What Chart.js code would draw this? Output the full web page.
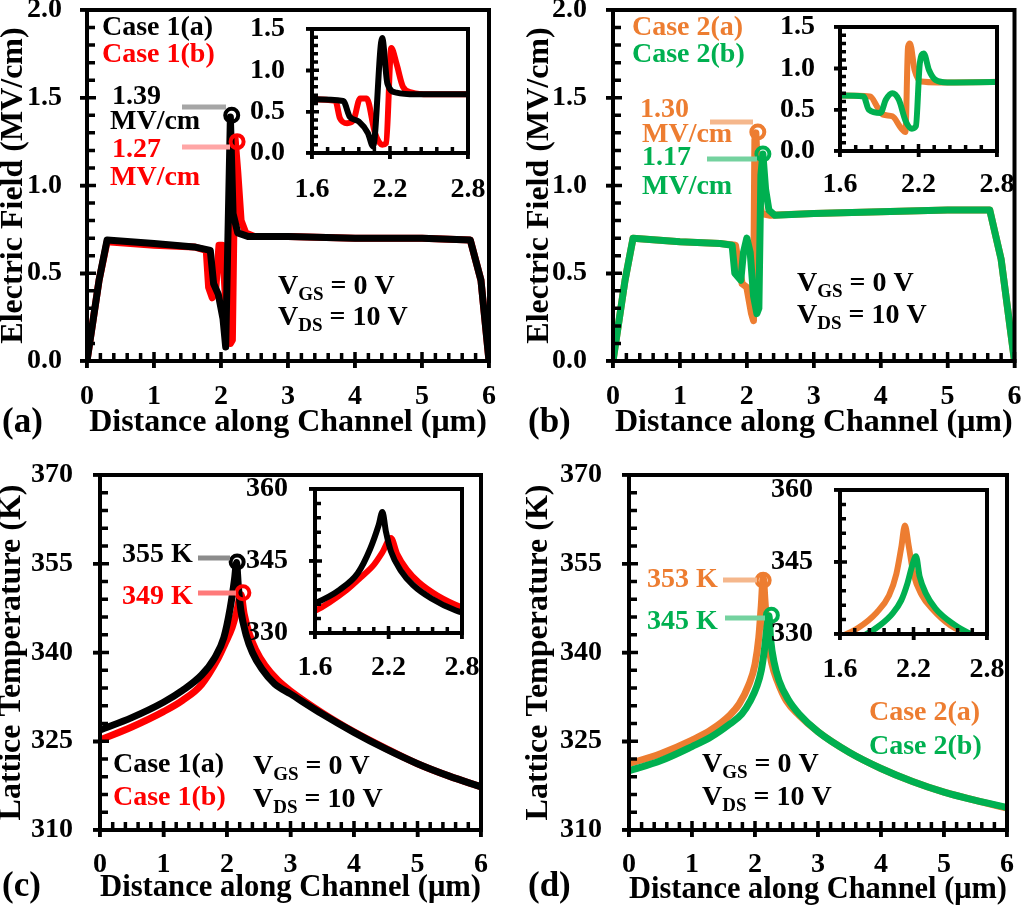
<!-- electric field and lattice temperature along the channel, four panels with zoomed insets (v3) -->
<!DOCTYPE html>
<html>
<head>
<meta charset="utf-8">
<title>Field and temperature along channel</title>
<script src="https://cdn.jsdelivr.net/npm/chart.js@4.4.0/dist/chart.umd.min.js"></script>
<style>
html, body { margin: 0; padding: 0; background: #ffffff; overflow: hidden; }
#wrap { position: relative; width: 1025px; height: 905px; }
#wrap canvas { position: absolute; }
</style>
</head>
<body>
<div id="wrap">
  <canvas id="pa"></canvas>
  <canvas id="pb"></canvas>
  <canvas id="pc"></canvas>
  <canvas id="pd"></canvas>
  <canvas id="ia"></canvas>
  <canvas id="ib"></canvas>
  <canvas id="ic"></canvas>
  <canvas id="id"></canvas>
</div>
<script>
// series: distance (um) and field (MV/cm)
const distE1a = [0, 0.18, 0.3, 1.0, 1.6, 1.84, 1.89, 1.96, 2.03, 2.07, 2.14, 2.18, 2.25, 2.4, 3.0, 4.0, 5.0, 5.72, 5.88, 6.0];
const fieldE1a = [0, 0.46, 0.69, 0.67, 0.65, 0.63, 0.44, 0.38, 0.24, 0.08, 1.39, 0.84, 0.73, 0.71, 0.71, 0.70, 0.70, 0.69, 0.46, 0];
const distE1b = [0, 0.18, 0.3, 1.0, 1.6, 1.78, 1.815, 1.87, 1.92, 1.97, 2.02, 2.085, 2.14, 2.17, 2.21, 2.25, 2.30, 2.37, 2.5, 3.0, 4.0, 5.0, 5.72, 5.88, 6.0];
const fieldE1b = [0, 0.46, 0.68, 0.66, 0.65, 0.63, 0.42, 0.36, 0.40, 0.66, 0.66, 0.24, 0.10, 0.12, 1.27, 1.08, 0.80, 0.73, 0.71, 0.71, 0.70, 0.70, 0.69, 0.46, 0];
const distE2a = [0, 0.18, 0.3, 1.0, 1.6, 1.83, 1.89, 1.93, 2.0, 2.07, 2.10, 2.12, 2.135, 2.17, 2.22, 2.35, 3.0, 4.0, 5.0, 5.63, 5.8, 6.0];
const fieldE2a = [0, 0.46, 0.70, 0.68, 0.67, 0.66, 0.52, 0.44, 0.42, 0.27, 0.23, 1.26, 1.30, 0.98, 0.84, 0.83, 0.84, 0.85, 0.86, 0.86, 0.58, 0];
const distE2b = [0, 0.18, 0.3, 1.0, 1.6, 1.78, 1.82, 1.91, 1.95, 2.0, 2.05, 2.10, 2.15, 2.18, 2.21, 2.24, 2.28, 2.33, 2.42, 3.0, 4.0, 5.0, 5.63, 5.8, 6.0];
const fieldE2b = [0, 0.46, 0.70, 0.68, 0.67, 0.66, 0.50, 0.46, 0.62, 0.70, 0.62, 0.37, 0.27, 0.30, 1.06, 1.18, 0.98, 0.86, 0.83, 0.84, 0.85, 0.86, 0.86, 0.58, 0];

// series: distance (um) and lattice temperature (K)
const distT1a = [0, 0.5, 1.0, 1.3, 1.6, 1.8, 1.95, 2.05, 2.12, 2.15, 2.18, 2.22, 2.3, 2.4, 2.55, 2.75, 3.0, 3.5, 4.0, 4.5, 5.0, 5.5, 6.0];
const tempT1a = [326.9, 329.0, 331.6, 333.6, 336.2, 339.0, 342.5, 347.5, 352.5, 355.2, 351.0, 347.0, 343.0, 340.0, 337.2, 334.7, 333.0, 329.6, 326.5, 323.7, 321.2, 319.1, 317.3];
const distT1b = [0, 0.5, 1.0, 1.3, 1.6, 1.86, 1.97, 2.08, 2.15, 2.22, 2.27, 2.35, 2.45, 2.6, 2.8, 3.0, 3.5, 4.0, 4.5, 5.0, 5.5, 6.0];
const tempT1b = [325.2, 327.4, 330.0, 331.9, 334.6, 339.0, 341.5, 344.2, 346.8, 349.8, 346.5, 343.2, 340.5, 337.8, 335.3, 333.5, 329.8, 326.6, 323.8, 321.2, 319.1, 317.3];
const distT2a = [0, 0.5, 1.0, 1.3, 1.6, 1.75, 1.9, 2.0, 2.06, 2.1, 2.13, 2.16, 2.2, 2.27, 2.35, 2.5, 2.7, 3.0, 3.5, 4.0, 4.5, 5.0, 5.5, 6.0];
const tempT2a = [321.2, 322.9, 325.2, 326.9, 329.4, 331.3, 334.5, 338.0, 342.5, 348.0, 352.6, 348.5, 342.5, 338.0, 335.3, 331.8, 329.4, 326.6, 323.1, 320.4, 318.2, 316.4, 315.0, 313.7];
const distT2b = [0, 0.5, 1.0, 1.3, 1.6, 1.79, 1.93, 2.03, 2.10, 2.15, 2.19, 2.22, 2.25, 2.3, 2.38, 2.53, 2.7, 3.0, 3.5, 4.0, 4.5, 5.0, 5.5, 6.0];
const tempT2b = [320.0, 321.7, 324.1, 325.7, 327.9, 329.6, 331.9, 334.3, 337.0, 340.5, 344.3, 346.2, 342.0, 338.5, 335.3, 332.0, 329.6, 326.6, 323.1, 320.4, 318.2, 316.4, 315.0, 313.8];

// peak markers
const peakE1d = [2.16, 2.24], peakE1v = [1.40, 1.25];
const peakE2d = [2.164, 2.24], peakE2v = [1.305, 1.18];
const peakT1d = [2.16, 2.25], peakT1v = [355.3, 350.1];
const peakT2d = [2.13, 2.26], peakT2v = [352.2, 346.3];

// tick values
const distTicks = [0, 1, 2, 3, 4, 5, 6];
const zoomDistTicks = [1.6, 2.2, 2.8];
const fieldTicks = [0, 0.5, 1.0, 1.5, 2.0];
const zoomFieldTicks = [0, 0.5, 1.0, 1.5];
const tempTicks = [310, 325, 340, 355, 370];
const zoomTempTicks = [330, 345, 360];

const SERIF = "'Liberation Serif', 'Times New Roman', serif";
const K = '#000000', R = '#ff0000', OR = '#ed7d31', GR = '#00b050';

function curve(dx, dy, color, order, smooth, width) {
  return {
    data: dx.map((x, i) => ({ x: x, y: dy[i] })),
    showLine: true, borderColor: color, borderWidth: width, pointRadius: 0, order: order,
    cubicInterpolationMode: smooth ? 'monotone' : 'default', tension: 0,
    borderJoinStyle: 'round', borderCapStyle: 'round', fill: false
  };
}
function rings(dx, dy, colors) {
  return {
    data: dx.map((x, i) => ({ x: x, y: dy[i] })),
    showLine: false, pointRadius: 6.5, pointBorderWidth: 4, pointBorderColor: colors,
    pointBackgroundColor: 'rgba(255,255,255,0)', order: 0
  };
}

function paintNotes(g, notes, ox, oy) {
  notes.forEach(n => {
    if (n.t === 'line') {
      g.fillStyle = n.c;
      g.fillRect(n.x1 - ox, n.y - oy - 2.5, n.x2 - n.x1, 5);
    } else if (n.t === 'text') {
      g.fillStyle = n.c || K; g.textAlign = 'left'; g.textBaseline = 'middle';
      g.font = 'bold ' + (n.size || 28) + 'px ' + SERIF;
      g.fillText(n.s, n.x - ox, n.y - oy);
    } else if (n.t === 'sub') {
      g.fillStyle = K; g.textAlign = 'left'; g.textBaseline = 'middle';
      let x = n.x - ox; const y = n.y - oy;
      g.font = 'bold 28px ' + SERIF;
      g.fillText('V', x, y); x += g.measureText('V').width;
      g.font = 'bold 19px ' + SERIF;
      g.fillText(n.sub, x, y + 8); x += g.measureText(n.sub).width;
      g.font = 'bold 28px ' + SERIF;
      g.fillText(n.rest, x, y);
    }
  });
}

function panel(id, c) {
  const el = document.getElementById(id);
  const [bl, bt, bw, bh] = c.box;
  const [al, at, ar, ab] = c.area;
  el.width = bw; el.height = bh;
  el.style.left = bl + 'px'; el.style.top = bt + 'px';
  const leftW = al - bl, bottomH = bt + bh - ab;
  const outLen = c.inset ? 6 : 7, inLen = c.inset ? 7 : 9;

  // inward tick marks and the closed frame
  const frame = {
    id: 'frame_' + id,
    afterDraw(chart) {
      const g = chart.ctx, a = chart.chartArea;
      const sx = chart.scales.x, sy = chart.scales.y;
      g.save();
      g.strokeStyle = K;
      g.lineCap = 'butt';
      g.lineWidth = 3.5;
      g.beginPath();
      const nx = Math.round((c.xr[1] - c.xr[0]) / c.xMinor);
      for (let i = 0; i <= nx; i++) {
        const p = sx.getPixelForValue(c.xr[0] + i * c.xMinor);
        g.moveTo(p, a.bottom);
        g.lineTo(p, a.bottom - (i * c.xMinor % 1 === 0 ? inLen : inLen - 1));
      }
      const ny = Math.round((c.yr[1] - c.yr[0]) / c.yMinor);
      for (let i = 0; i <= ny; i++) {
        const p = sy.getPixelForValue(c.yr[0] + i * c.yMinor);
        g.moveTo(a.left, p);
        g.lineTo(a.left + inLen - 1, p);
      }
      for (const v of c.xTicks) {
        const p = sx.getPixelForValue(v);
        g.moveTo(p, a.bottom + outLen);
        g.lineTo(p, a.bottom - inLen);
      }
      for (const v of c.yTicks) {
        const p = sy.getPixelForValue(v);
        g.moveTo(a.left - outLen, p);
        g.lineTo(a.left + inLen, p);
      }
      g.stroke();
      g.lineWidth = 4;
      g.strokeRect(a.left, a.top, a.right - a.left, a.bottom - a.top);
      if (c.notes) paintNotes(g, c.notes, bl, bt);
      g.restore();
    }
  };

  const tickFont = { family: SERIF, size: 28, weight: 'bold' };
  const titleFont = { family: SERIF, size: 32, weight: 'bold', lineHeight: 1 };
  // outward half of the major ticks comes from the library's own tick marks
  const gridOpts = { display: true, drawOnChartArea: false, drawTicks: true, tickLength: outLen,
                     tickWidth: 3.5, tickColor: K, color: K, lineWidth: 3.5 };

  return new Chart(el, {
    type: 'scatter',
    data: { datasets: c.datasets },
    options: {
      responsive: false, animation: false, devicePixelRatio: 1,
      layout: { padding: { left: 0, top: at - bt, right: bl + bw - ar, bottom: 0 } },
      plugins: { legend: { display: false }, tooltip: { enabled: false } },
      scales: {
        x: {
          type: 'linear', min: c.xr[0], max: c.xr[1],
          afterBuildTicks: s => { s.ticks = c.xTicks.map(v => ({ value: v })); },
          afterFit: s => { s.height = bottomH; s.paddingLeft = 0; s.paddingRight = 0; },
          grid: gridOpts, border: { display: true, color: K, width: 4 },
          ticks: { font: tickFont, color: K, padding: c.xPad - outLen, maxRotation: 0, autoSkip: false,
                   callback: v => c.xFmt(v) },
          title: { display: !!c.xTitle, text: c.xTitle || '', color: K, font: titleFont,
                   padding: { top: 0, bottom: c.xTitlePad || 0 } }
        },
        y: {
          type: 'linear', min: c.yr[0], max: c.yr[1],
          afterBuildTicks: s => { s.ticks = c.yTicks.map(v => ({ value: v })); },
          afterFit: s => { s.width = leftW; s.paddingTop = 0; s.paddingBottom = 0; },
          grid: gridOpts, border: { display: true, color: K, width: 4 },
          ticks: { font: tickFont, color: K, padding: c.yPad - outLen, autoSkip: false,
                   callback: v => c.yFmt(v) },
          title: { display: !!c.yTitle, text: c.yTitle || '', color: K, font: titleFont,
                   padding: { top: c.yTitlePad || 0, bottom: 0 } }
        }
      }
    },
    plugins: [frame]
  });
}

const one = v => v.toFixed(1);
const whole = v => String(Math.round(v));
const DIST = 'Distance along Channel (\u03bcm)';

panel('pa', {
  box: [0, -20, 510, 470], area: [87, 10, 489, 361],
  xr: [0, 6], yr: [0, 2], xTicks: distTicks, yTicks: fieldTicks, xMinor: 0.2, yMinor: 0.1,
  xFmt: whole, yFmt: one, xPad: 19, yPad: 25, xTitle: DIST, xTitlePad: 11,
  yTitle: 'Electric Field (MV/cm)', yTitlePad: -2,
  datasets: [rings(peakE1d, peakE1v, [K, R]),
             curve(distE1a, fieldE1a, K, 1, false, 7), curve(distE1b, fieldE1b, R, 2, false, 7)],
  notes: [
    { t: 'text', s: 'Case 1(a)', x: 102, y: 28, c: K },
    { t: 'text', s: 'Case 1(b)', x: 102, y: 55, c: R },
    { t: 'text', s: '1.39', x: 112, y: 97, c: K },
    { t: 'text', s: 'MV/cm', x: 110, y: 122, c: K },
    { t: 'text', s: '1.27', x: 112, y: 150, c: R },
    { t: 'text', s: 'MV/cm', x: 110, y: 178, c: R },
    { t: 'line', x1: 182, x2: 226, y: 107, c: '#a6a6a6' },
    { t: 'line', x1: 182, x2: 230, y: 147, c: '#ffa6a6' },
    { t: 'sub', sub: 'GS', rest: ' = 0 V', x: 278, y: 287 },
    { t: 'sub', sub: 'DS', rest: ' = 10 V', x: 278, y: 318 },
    { t: 'text', s: '(a)', x: 2, y: 423, size: 35 }
  ]
});

panel('pb', {
  box: [510, -20, 515, 470], area: [613, 10, 1015, 361],
  xr: [0, 6], yr: [0, 2], xTicks: distTicks, yTicks: fieldTicks, xMinor: 0.2, yMinor: 0.1,
  xFmt: whole, yFmt: one, xPad: 19, yPad: 26, xTitle: DIST, xTitlePad: 11,
  yTitle: 'Electric Field (MV/cm)', yTitlePad: 14,
  datasets: [rings(peakE2d, peakE2v, [OR, GR]),
             curve(distE2b, fieldE2b, GR, 1, false, 7), curve(distE2a, fieldE2a, OR, 2, false, 7)],
  notes: [
    { t: 'text', s: 'Case 2(a)', x: 632, y: 28, c: OR },
    { t: 'text', s: 'Case 2(b)', x: 632, y: 55, c: GR },
    { t: 'text', s: '1.30', x: 640, y: 110, c: OR },
    { t: 'text', s: 'MV/cm', x: 642, y: 135, c: OR },
    { t: 'text', s: '1.17', x: 642, y: 158, c: GR },
    { t: 'text', s: 'MV/cm', x: 642, y: 187, c: GR },
    { t: 'line', x1: 710, x2: 753, y: 122, c: '#f5b78c' },
    { t: 'line', x1: 707, x2: 757, y: 159, c: '#74d29f' },
    { t: 'sub', sub: 'GS', rest: ' = 0 V', x: 797, y: 284 },
    { t: 'sub', sub: 'DS', rest: ' = 10 V', x: 797, y: 316 },
    { t: 'text', s: '(b)', x: 528, y: 423, size: 35 }
  ]
});

panel('pc', {
  box: [0, 450, 510, 455], area: [100, 475, 481, 830],
  xr: [0, 6], yr: [310, 370], xTicks: distTicks, yTicks: tempTicks, xMinor: 0.2, yMinor: 3,
  xFmt: whole, yFmt: whole, xPad: 18, yPad: 27, xTitle: DIST, xTitlePad: 1,
  yTitle: 'Lattice Temperature (K)', yTitlePad: -4,
  datasets: [rings(peakT1d, peakT1v, [K, R]),
             curve(distT1a, tempT1a, K, 1, true, 7), curve(distT1b, tempT1b, R, 2, true, 7)],
  notes: [
    { t: 'text', s: '355 K', x: 122, y: 555, c: K },
    { t: 'text', s: '349 K', x: 122, y: 597, c: R },
    { t: 'line', x1: 198, x2: 230, y: 558, c: '#8c8c8c' },
    { t: 'line', x1: 198, x2: 236, y: 593, c: '#ff7a7a' },
    { t: 'text', s: 'Case 1(a)', x: 113, y: 765, c: K },
    { t: 'text', s: 'Case 1(b)', x: 113, y: 798, c: R },
    { t: 'sub', sub: 'GS', rest: ' = 0 V', x: 253, y: 767 },
    { t: 'sub', sub: 'DS', rest: ' = 10 V', x: 253, y: 800 },
    { t: 'text', s: '(c)', x: 2, y: 887, size: 35 }
  ]
});

panel('pd', {
  box: [510, 450, 515, 455], area: [629, 475, 1007, 830],
  xr: [0, 6], yr: [310, 370], xTicks: distTicks, yTicks: tempTicks, xMinor: 0.2, yMinor: 3,
  xFmt: whole, yFmt: whole, xPad: 18, yPad: 27, xTitle: DIST, xTitlePad: -1,
  yTitle: 'Lattice Temperature (K)', yTitlePad: 13,
  datasets: [rings(peakT2d, peakT2v, [OR, GR]),
             curve(distT2b, tempT2b, GR, 1, true, 7), curve(distT2a, tempT2a, OR, 2, true, 7)],
  notes: [
    { t: 'text', s: '353 K', x: 647, y: 580, c: OR },
    { t: 'text', s: '345 K', x: 647, y: 622, c: GR },
    { t: 'line', x1: 723, x2: 757, y: 580, c: '#f5b78c' },
    { t: 'line', x1: 725, x2: 765, y: 618, c: '#74d29f' },
    { t: 'text', s: 'Case 2(a)', x: 869, y: 713, c: OR },
    { t: 'text', s: 'Case 2(b)', x: 869, y: 747, c: GR },
    { t: 'sub', sub: 'GS', rest: ' = 0 V', x: 702, y: 765 },
    { t: 'sub', sub: 'DS', rest: ' = 10 V', x: 702, y: 798 },
    { t: 'text', s: '(d)', x: 528, y: 887, size: 35 }
  ]
});

function zoomCurves(list) {
  return list.map(d => Object.assign(curve(d[0], d[1], d[2], d[3], true, 6), { clip: 0 }));
}

panel('ia', {
  inset: true, box: [240, 0, 250, 215], area: [312, 29, 468, 153],
  xr: [1.6, 2.8], yr: [0, 1.5], xTicks: zoomDistTicks, yTicks: zoomFieldTicks, xMinor: 0.12, yMinor: 0.1,
  xFmt: one, yFmt: one, xPad: 20, yPad: 27,
  datasets: zoomCurves([[distE1a, fieldE1a, K, 1], [distE1b, fieldE1b, R, 2]])
});
panel('ib', {
  inset: true, box: [770, 0, 255, 215], area: [840, 27, 997, 151],
  xr: [1.6, 2.8], yr: [0, 1.5], xTicks: zoomDistTicks, yTicks: zoomFieldTicks, xMinor: 0.12, yMinor: 0.1,
  xFmt: one, yFmt: one, xPad: 17, yPad: 25,
  datasets: zoomCurves([[distE2b, fieldE2b, GR, 1], [distE2a, fieldE2a, OR, 2]])
});
panel('ic', {
  inset: true, box: [240, 460, 250, 230], area: [315, 489, 462, 633],
  xr: [1.6, 2.8], yr: [330, 360], xTicks: zoomDistTicks, yTicks: zoomTempTicks, xMinor: 0.12, yMinor: 3,
  xFmt: one, yFmt: whole, xPad: 18, yPad: 27,
  datasets: zoomCurves([[distT1a, tempT1a, K, 1], [distT1b, tempT1b, R, 2]])
});
panel('id', {
  inset: true, box: [770, 460, 255, 230], area: [840, 490, 987, 634],
  xr: [1.6, 2.8], yr: [330, 360], xTicks: zoomDistTicks, yTicks: zoomTempTicks, xMinor: 0.12, yMinor: 3,
  xFmt: one, yFmt: whole, xPad: 19, yPad: 27,
  datasets: zoomCurves([[distT2b, tempT2b, GR, 1], [distT2a, tempT2a, OR, 2]])
});
</script>
</body>
</html>
